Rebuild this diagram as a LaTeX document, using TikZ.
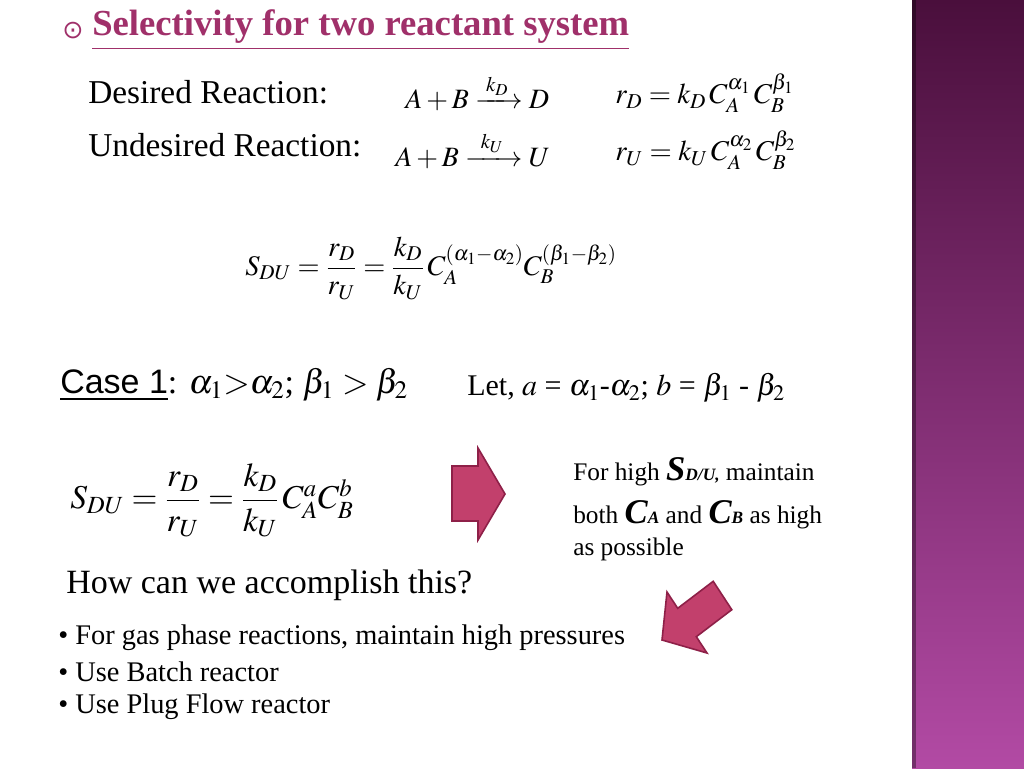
\documentclass[tikz,border=0pt]{standalone}
\usepackage{amsmath}
\usepackage{mathptmx}
\usepackage[no-math]{fontspec}
\setmainfont{Liberation Serif}
\newfontfamily\arialf{Liberation Sans}
\newfontfamily\symf{DejaVu Sans}
\definecolor{ttl}{HTML}{A0306A}
\definecolor{arrf}{HTML}{C2406C}
\definecolor{arrd}{HTML}{8E2048}
\definecolor{bartop}{HTML}{4A0F3C}
\definecolor{barbot}{HTML}{B24AA4}
\newcommand{\bigbi}[1]{{\fontsize{26}{26}\selectfont\bfseries\itshape #1}}
\newcommand{\smbi}[1]{{\fontsize{13}{13}\selectfont\bfseries\itshape #1}}
\begin{document}
\begin{tikzpicture}[x=0.75pt,y=-0.75pt,
  txt/.style={anchor=west,inner sep=0pt},
  note/.style={anchor=base west,inner sep=0pt,font=\fontsize{19}{22}\selectfont},
  blk/.style={fill=arrf,draw=arrd,line width=1.2pt,line join=miter}]
\useasboundingbox (0,0) rectangle (1024,768);
\fill[white] (0,0) rectangle (1024,768);
\shade[top color=bartop,bottom color=barbot] (912,0) rectangle (1024,768);
\fill[black,opacity=0.35] (912,0) rectangle (916,768);
% title
\node[txt,text=ttl] (bul) at (62,31) {\fontsize{19}{22}\selectfont\symf ⊙};
\node[txt,text=ttl] (title) at (92,30) {\fontsize{27.5}{32}\selectfont\bfseries\underline{Selectivity for two reactant system}};
% reactions
\node[txt] (dr) at (88,92) {\fontsize{25}{29}\selectfont Desired Reaction:};
\node[txt] (drx) at (405,93) {\fontsize{21}{25}\selectfont $A+B\xrightarrow{\;k_D\;}D$};
\node[txt] (dre) at (615,93) {\fontsize{21.5}{25}\selectfont $r_D=k_D\,C_A^{\alpha_1}\,C_B^{\beta_1}$};
\node[txt] (ur) at (88,145) {\fontsize{25}{29}\selectfont Undesired Reaction:};
\node[txt] (urx) at (395,150) {\fontsize{21}{25}\selectfont $A+B\xrightarrow{\;\;k_U\;\;}U$};
\node[txt] (ure) at (615,150) {\fontsize{21.5}{25}\selectfont $r_U=k_U\,C_A^{\alpha_2}\,C_B^{\beta_2}$};
% S_DU
\node[txt] (s1) at (245,268) {\fontsize{21.3}{25}\selectfont $S_{DU}=\dfrac{r_D}{r_U}=\dfrac{k_D}{k_U}\,C_A^{(\alpha_1-\alpha_2)}C_B^{(\beta_1-\beta_2)}$};
% case
\node[txt] (case) at (60,385) {\fontsize{25.5}{30}\selectfont{\arialf\underline{Case 1}}: $\alpha_1{>}\alpha_2$; $\beta_1>\beta_2$};
\node[txt] (let) at (467,388) {\fontsize{22.5}{26}\selectfont Let, $\boldsymbol{a}$ = $\alpha_1$-$\alpha_2$; $\boldsymbol{b}$ = $\beta_1$ - $\beta_2$};
\node[txt] (s2) at (70,500) {\fontsize{25}{29}\selectfont $S_{DU}=\dfrac{r_D}{r_U}=\dfrac{k_D}{k_U}\,C_A^{a}C_B^{b}$};
% right arrow
\draw[blk] (452,466) -- (478,466) -- (478,448) -- (505,494) -- (478,540) -- (478,521) -- (452,521) -- cycle;
% text block
\node[note] (n1) at (573,480) {For high \bigbi{S}\smbi{D/U,} maintain};
\node[note] (n2) at (573,523) {both \bigbi{C}\smbi{A} and \bigbi{C}\smbi{B} as high};
\node[note] (n3) at (573,555) {as possible};
% question
\node[txt] (q) at (66,585) {\fontsize{25.5}{30}\selectfont How can we accomplish this?};
\node[txt] (b1) at (58,638) {\fontsize{21.3}{25}\selectfont • For gas phase reactions, maintain high pressures};
\node[txt] (b2) at (58,672) {\fontsize{21.3}{25}\selectfont • Use Batch reactor};
\node[txt] (b3) at (58,707) {\fontsize{21.3}{25}\selectfont • Use Plug Flow reactor};
% down-left arrow
\draw[blk] (662,640) -- (667,592) -- (677.7,608.3) -- (713.2,581.3) -- (731.8,609.7) -- (696.3,636.7) -- (707,653) -- cycle;
\end{tikzpicture}
\end{document}
